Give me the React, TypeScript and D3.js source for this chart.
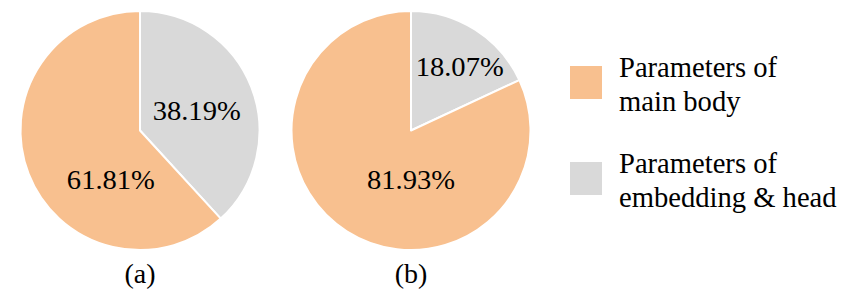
import React from "react";
import * as d3 from "d3";

const categories = ["Parameters of main body", "Parameters of embedding & head"];
const legendLines = [["Parameters of", "main body"], ["Parameters of", "embedding & head"]];
const pieNames = ["(a)", "(b)"];
const embedHeadShare = [38.19, 18.07];
const mainBodyShare = [61.81, 81.93];

const COLORS = ["#F8C08F", "#D9D9D9"];
const FONT = "Liberation Serif";

// label placement (angle in degrees clockwise from 12 o'clock, radius fraction) per pie: [main, embed]
const LABEL_POLAR = [
  [[210.9, 0.475], [70.6, 0.503]],
  [[180, 0.41], [37.2, 0.674]],
];

export default function App() {
  const W = 844, H = 304;
  const R = 119.5;
  const centers = [[140, 130.5], [411, 130.5]];
  const arc = d3.arc<any>().innerRadius(0).outerRadius(R);
  const pie = d3.pie<any>().sort(null).value((d: any) => d.value).startAngle(0).endAngle(2 * Math.PI);

  return (
    <svg width={W} height={H} style={{ position: "absolute", left: 0, top: 0, background: "#fff", fontFamily: FONT }}>
      {pieNames.map((name, i) => {
        const data = [
          { key: 1, value: embedHeadShare[i] },
          { key: 0, value: mainBodyShare[i] },
        ];
        const arcs = pie(data);
        const [cx, cy] = centers[i];
        return (
          <g key={name} transform={`translate(${cx},${cy})`}>
            {arcs.map((a: any) => (
              <path key={a.data.key} d={arc(a) as string} fill={COLORS[a.data.key]} stroke="#fff" strokeWidth={2} strokeLinejoin="round" />
            ))}
            {arcs.map((a: any) => {
              const [deg, frac] = LABEL_POLAR[i][a.data.key];
              const [x, y] = d3.pointRadial((deg * Math.PI) / 180, frac * R);
              return (
                <text key={"t" + a.data.key} x={x} y={y + 9.5} textAnchor="middle" fontSize={28} textLength={88} lengthAdjust="spacingAndGlyphs" fill="#000" style={{ fontFamily: FONT }}>
                  {a.data.value.toFixed(2)}%
                </text>
              );
            })}
            <text x={0} y={R + 33} textAnchor="middle" fontSize={28} fill="#000" style={{ fontFamily: FONT }}>{name}</text>
          </g>
        );
      })}
      {categories.map((c, k) => {
        const y0 = 66 + k * 96;
        return (
          <g key={c}>
            <rect x={570} y={y0} width={32} height={33} fill={COLORS[k]} />
            {legendLines[k].map((ln, j) => (
              <text key={j} x={619} y={y0 + 10.5 + j * 34.3} fontSize={28.6} fill="#000" style={{ fontFamily: FONT }}>{ln}</text>
            ))}
          </g>
        );
      })}
    </svg>
  );
}
